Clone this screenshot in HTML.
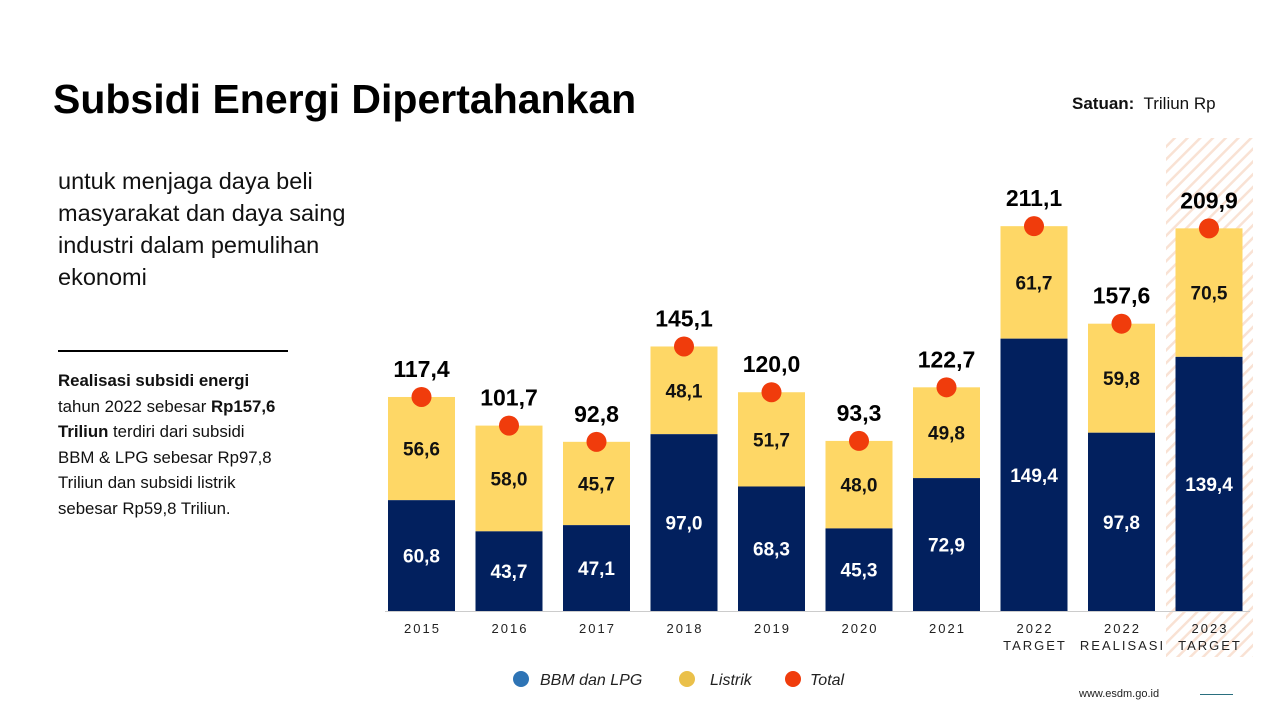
<!DOCTYPE html>
<html><head><meta charset="utf-8"><style>
body{margin:0;width:1280px;height:720px;background:#fff;font-family:"Liberation Sans",sans-serif;position:relative;overflow:hidden}
.t{position:absolute;white-space:nowrap}
</style></head><body>
<div class="t" style="left:53px;top:76px;font-size:41px;font-weight:bold;color:#000">Subsidi Energi Dipertahankan</div>
<div class="t" style="left:1072px;top:94px;font-size:17px;color:#111"><b>Satuan:</b>&nbsp; Triliun Rp</div>
<div class="t" style="left:58px;top:165px;font-size:23.5px;line-height:32px;color:#111">untuk menjaga daya beli<br>masyarakat dan daya saing<br>industri dalam pemulihan<br>ekonomi</div>
<div style="position:absolute;left:58px;top:350px;width:230px;height:2px;background:#000"></div>
<div class="t" style="left:58px;top:368px;font-size:16.8px;line-height:25.5px;color:#111"><b>Realisasi subsidi energi</b><br>tahun 2022 sebesar <b>Rp157,6</b><br><b>Triliun</b> terdiri dari subsidi<br>BBM &amp; LPG sebesar Rp97,8<br>Triliun dan subsidi listrik<br>sebesar Rp59,8 Triliun.</div>
<div class="t" style="left:1079px;top:688px;font-size:11px;color:#222">www.esdm.go.id</div>
<div style="position:absolute;left:1200px;top:694px;width:33px;height:1px;background:#2a6f7f"></div>
<svg id="s" width="1280" height="720" style="position:absolute;left:0;top:0" font-family="Liberation Sans, sans-serif">
<defs><pattern id="h" width="9" height="9" patternUnits="userSpaceOnUse" patternTransform="rotate(45)"><rect width="9" height="9" fill="#fff"/><rect width="2.5" height="9" fill="#f9e2d4"/></pattern></defs>
<rect x="1166" y="138" width="87" height="519" fill="url(#h)"/>
</svg>
<script>
var d=[["2015",60.8,56.6,117.4],["2016",43.7,58.0,101.7],["2017",47.1,45.7,92.8],["2018",97.0,48.1,145.1],["2019",68.3,51.7,120.0],["2020",45.3,48.0,93.3],["2021",72.9,49.8,122.7],["2022|TARGET",149.4,61.7,211.1],["2022|REALISASI",97.8,59.8,157.6],["2023|TARGET",139.4,70.5,209.9]];
var k=1.823,b=611,h="";
function f(v){return v.toFixed(1).replace(".",",");}
d.forEach(function(r,i){var x=388+i*87.5,w=67,cx=x+w/2;
var y1=b-r[1]*k,y2=b-r[3]*k;
h+='<rect x="'+x+'" y="'+y2+'" width="'+w+'" height="'+(y1-y2)+'" fill="#fed766"/>';
h+='<rect x="'+x+'" y="'+y1+'" width="'+w+'" height="'+(b-y1)+'" fill="#02205e"/>';
h+='<text x="'+cx+'" y="'+((y1+b)/2+7)+'" text-anchor="middle" font-size="19" font-weight="bold" fill="#fff">'+f(r[1])+'</text>';
h+='<text x="'+cx+'" y="'+((y1+y2)/2+7)+'" text-anchor="middle" font-size="19" font-weight="bold" fill="#111">'+f(r[2])+'</text>';
h+='<circle cx="'+cx+'" cy="'+y2+'" r="10" fill="#f03c0c"/>';
h+='<text x="'+cx+'" y="'+(y2-20)+'" text-anchor="middle" font-size="23" font-weight="bold" fill="#000">'+f(r[3])+'</text>';
var l=r[0].split("|");l.forEach(function(t,j){h+='<text x="'+(cx+1)+'" y="'+(633+j*17)+'" text-anchor="middle" font-size="13" letter-spacing="2" fill="#222">'+t+'</text>';});
});
h+='<line x1="385" y1="611.5" x2="1250" y2="611.5" stroke="#ccc"/>';
h+='<circle cx="521" cy="679" r="8" fill="#2e74b5"/><text x="540" y="685" font-size="16" font-style="italic" fill="#222">BBM dan LPG</text>';
h+='<circle cx="687" cy="679" r="8" fill="#eac04a"/><text x="710" y="685" font-size="16" font-style="italic" fill="#222">Listrik</text>';
h+='<circle cx="793" cy="679" r="8" fill="#f03c0c"/><text x="810" y="685" font-size="16" font-style="italic" fill="#222">Total</text>';
document.getElementById("s").insertAdjacentHTML("beforeend",h);
</script>
</body></html>
